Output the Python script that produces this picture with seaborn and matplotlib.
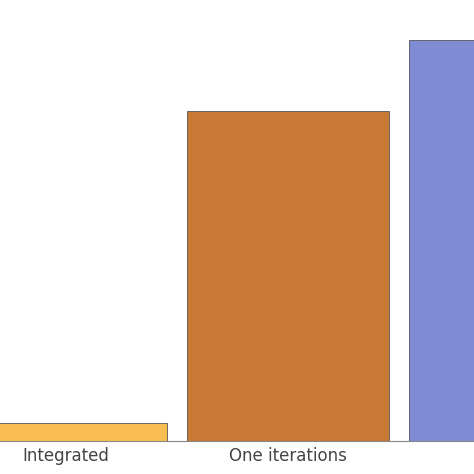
import matplotlib
matplotlib.use("Agg")
import matplotlib.pyplot as plt
import seaborn as sns
import pandas as pd

# data
methods = ["Integrated", "One iterations", "Two iterations"]
values = [18, 330, 401]
colors = ["#F9BE53", "#C87933", "#7F8CD3"]

df = pd.DataFrame({"method": methods, "value": values})

sns.set_style("white")
fig = plt.figure(figsize=(4.74, 4.74), dpi=100)
ax = fig.add_axes([0, 33 / 474, 1, 441 / 474])

sns.barplot(data=df, x="method", y="value", hue="method", palette=colors,
            width=0.91, edgecolor="#555555", linewidth=0.6, saturation=1,
            legend=False, ax=ax)

ax.set_xlim(-0.297, 1.838)
ax.set_ylim(0, 441)
ax.set_xlabel("")
ax.set_ylabel("")
ax.set_yticks([])
for s in ["top", "left", "right"]:
    ax.spines[s].set_visible(False)
ax.spines["bottom"].set_color("#888888")
ax.spines["bottom"].set_linewidth(0.8)

ax.set_xticks([0.5, 1.5], minor=True)
ax.tick_params(axis="x", which="major", length=0, labelsize=12,
               labelcolor="#444444", pad=4)
ax.tick_params(axis="x", which="minor", length=8, color="#888888", width=0.8)

fig.savefig("out.png", dpi=100)
